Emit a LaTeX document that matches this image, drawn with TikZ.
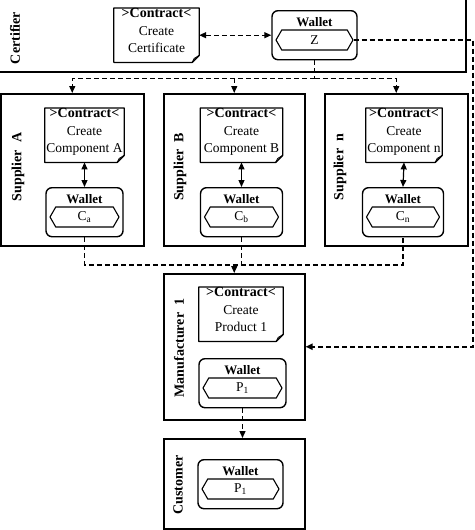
\documentclass[tikz,border=0pt]{standalone}
\usepackage{fontspec}
\setmainfont{Liberation Serif}
\usetikzlibrary{arrows.meta,shapes.symbols}

\tikzset{
  actor/.style={draw, line width=1.5pt, anchor=north west, inner sep=0pt},
  actorlabel/.style={rotate=90, inner sep=0pt, font=\bfseries\fontsize{14}{16}\selectfont},
  contractbox/.style={inner sep=0pt, anchor=north},
  contracttext/.style={anchor=north, align=center, inner sep=0pt, font=\fontsize{13.5}{17.5}\selectfont},
  walletbox/.style={draw, line width=1.4pt, rounded corners=6pt, anchor=north, inner sep=0pt},
  wallettitle/.style={font=\bfseries\fontsize{13}{15}\selectfont, inner sep=0pt},
  keybox/.style={draw, line width=1.1pt, shape=signal, signal to=west and east, signal pointer angle=120,
    inner sep=0pt, minimum height=20pt, font=\fontsize{13.5}{15}\selectfont},
  link/.style={line width=1.3pt, dash pattern=on 5pt off 3pt},
  onearrow/.style={-{Triangle[length=7pt,width=6pt]}},
  twoarrow/.style={{Triangle[length=7pt,width=6pt]}-{Triangle[length=7pt,width=6pt]}}
}

% name, x, top, width, text
\newcommand{\mkcontract}[5]{%
  \node[contractbox, minimum width=#4pt, minimum height=54pt] (#1) at (#2,#3) {};
  \draw[line width=1.3pt, line join=round] (#1.north west) -- (#1.north east) -- ([yshift=7pt]#1.south east)
    -- ([xshift=-7pt]#1.south east) -- (#1.south west) -- cycle;
  \draw[line width=0.8pt] ([xshift=-7pt]#1.south east) -- ([xshift=-5pt,yshift=4pt]#1.south east) -- ([yshift=7pt]#1.south east);
  \node[contracttext] at ([yshift=-0.5pt]#1.north) {\textbf{\fontsize{14}{17.5}\selectfont>Contract<}\\#5};
}
% name, x, top, width, key
\newcommand{\mkwallet}[5]{%
  \node[walletbox, minimum width=#4pt, minimum height=49pt] (#1) at (#2,#3) {};
  \node[wallettitle] at ([yshift=-12pt]#1.north) {Wallet};
  \node[keybox, minimum width=#4pt-8pt] (#1key) at ([yshift=-30pt]#1.north) {#5};
}

\begin{document}
\begin{tikzpicture}[x=1pt,y=-1pt]
  \useasboundingbox (0,0) rectangle (474,530);

  % actors
  \node[actor, minimum width=467pt, minimum height=76pt] (cert) at (-2,-5) {};
  \node[actor, minimum width=143pt, minimum height=152pt] (sA) at (0,93) {};
  \node[actor, minimum width=141pt, minimum height=152pt] (sB) at (163,93) {};
  \node[actor, minimum width=143pt, minimum height=152pt] (sN) at (324,93) {};
  \node[actor, minimum width=141pt, minimum height=146pt] (mf) at (163,273) {};
  \node[actor, minimum width=141pt, minimum height=90pt] (cu) at (163,438) {};

  \node[actorlabel] at (15,38) {Certifier};
  \node[actorlabel] at (18,167) {Supplier~ A};
  \node[actorlabel] at (180,167) {Supplier~ B};
  \node[actorlabel] at (340,167) {Supplier~ n};
  \node[actorlabel] at (179,348) {Manufacturer~ 1};
  \node[actorlabel] at (178,485) {Customer};

  % contracts and wallets
  \mkcontract{cZ}{156.5}{8}{85}{Create\\Certificate}
  \mkwallet{wZ}{314.5}{10}{85}{Z}
  \mkcontract{cA}{84.5}{108}{79}{Create\\Component A}
  \mkwallet{wA}{84.5}{187}{77}{C\textsubscript{a}}
  \mkcontract{cB}{241.5}{108}{82}{Create\\Component B}
  \mkwallet{wB}{241.5}{187}{82}{C\textsubscript{b}}
  \mkcontract{cN}{404}{108}{76}{Create\\Component n}
  \mkwallet{wN}{403}{187}{81}{C\textsubscript{n}}
  \mkcontract{cP}{241}{287}{84}{Create\\Product 1}
  \mkwallet{wP}{242.5}{358}{87}{P\textsubscript{1}}
  \mkwallet{wC}{240.5}{459}{85}{P\textsubscript{1}}

  % certifier links
  \draw[link,twoarrow] (cZ.east) -- (wZ.west);
  \path (wZ.south) ++(0,18) coordinate (zbus);
  \draw[link] (wZ.south) -- (zbus);
  \draw[link,onearrow] (zbus) -| (sA.north);
  \draw[link,onearrow] (zbus) -| (sN.north);
  \draw[link,onearrow] (zbus -| sB.north) -- (sB.north);
  \coordinate (rbend) at (mf.east -| 473,0);
  \draw[link,line width=2pt,onearrow] (wZkey.east) -| (rbend) -- (mf.east);

  % suppliers
  \foreach \s in {A,B,N}{
    \draw[line width=1.2pt,twoarrow] (c\s.south) -- (w\s.north);
  }
  \coordinate (sbus) at (mf.north |- 0,265);
  \draw[link] (wA.south) |- (wN.south |- sbus) -- (wN.south);
  \draw[link] (wB.south) -- (wB.south |- sbus);
  \draw[link,onearrow] (sbus) -- (mf.north);

  % manufacturer to customer
  \draw[link,onearrow] (wP.south) -- (wP.south |- cu.north);
\end{tikzpicture}
\end{document}
